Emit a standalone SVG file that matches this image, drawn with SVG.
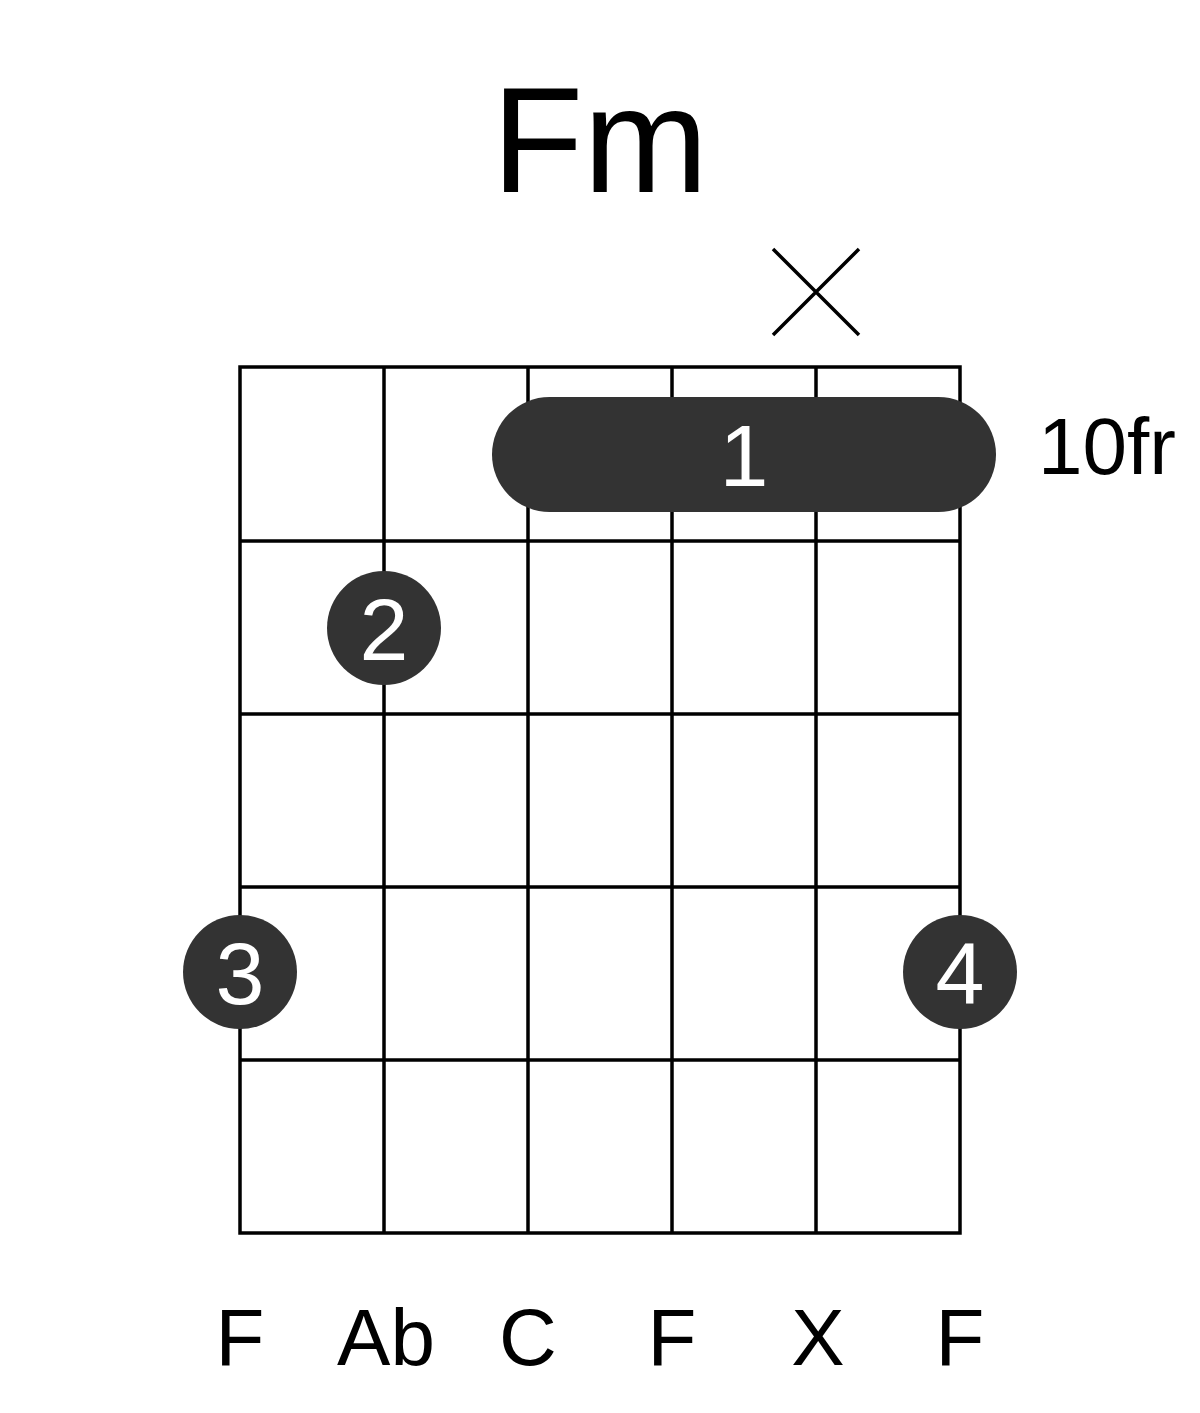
<svg xmlns="http://www.w3.org/2000/svg" width="1200" height="1413" viewBox="0 0 1200 1413">
<style>
.t{font-family:"Liberation Sans",Arial,sans-serif;fill:#000}
.w{font-family:"Liberation Sans",Arial,sans-serif;fill:#fff;text-anchor:middle}
.g{stroke:#000;stroke-width:3.5;fill:none}
.d{fill:#333}
</style>
<rect width="1200" height="1413" fill="#fff"/>
<text class="t" x="600" y="192" font-size="150" text-anchor="middle">Fm</text>
<g id="grid" class="g">
<rect x="240" y="367" width="720" height="866"/>
<path d="M384 367V1233M528 367V1233M672 367V1233M816 367V1233M240 541H960M240 714H960M240 887H960M240 1060H960"/>
</g>
<g id="mute"><path d="M773 249L859 335M859 249L773 335" stroke="#000" stroke-width="3.5"/></g>
<g id="barre"><rect class="d" x="492" y="397" width="504" height="115" rx="57.5"/><text class="w" x="744" y="486" font-size="88">1</text></g>
<g id="f2"><circle class="d" cx="384" cy="628" r="57"/><text class="w" x="384" y="660" font-size="88">2</text></g>
<g id="f3"><circle class="d" cx="240" cy="972" r="57"/><text class="w" x="240" y="1004" font-size="88">3</text></g>
<g id="f4"><circle class="d" cx="960" cy="972" r="57"/><text class="w" x="960" y="1004" font-size="88">4</text></g>
<text class="t" x="1038" y="474" font-size="80">10fr</text>
<g class="t" font-size="80" text-anchor="middle">
<text x="240" y="1365">F</text><text x="386" y="1365">Ab</text><text x="528" y="1365">C</text><text x="672" y="1365">F</text><text x="818" y="1365">X</text><text x="960" y="1365">F</text>
</g>
</svg>
